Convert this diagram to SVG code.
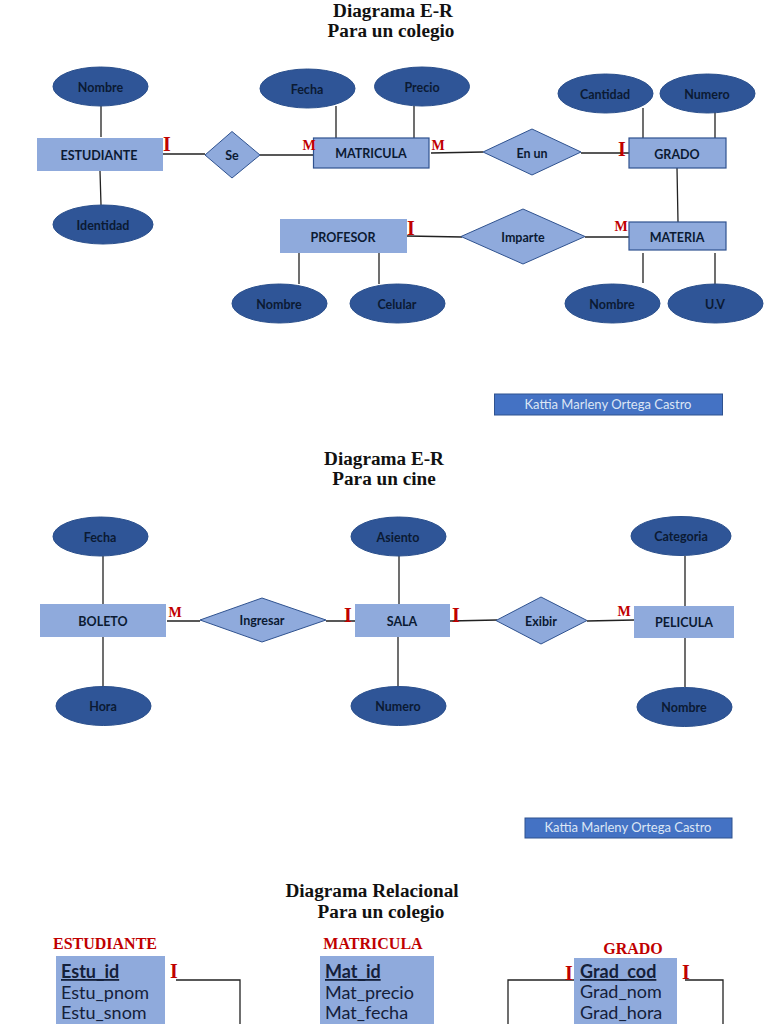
<svg xmlns="http://www.w3.org/2000/svg" width="768" height="1024" viewBox="0 0 768 1024">
<style>
text{font-family:"Lato","Open Sans","Liberation Sans",sans-serif;text-anchor:middle}
.t{font-family:"Liberation Serif",serif;font-weight:700;font-size:19.200px;fill:#111}
.n{font-weight:700;font-size:12.500px;fill:#0b1a33}
.e{fill:#2f5597;stroke:#2a4f8c;stroke-width:1}
.r{fill:#8faadc}
.b{fill:#8faadc;stroke:#2f528f;stroke-width:1.2}
.d{fill:#8faadc;stroke:#2f528f;stroke-width:1}
.c{fill:none;stroke:#222;stroke-width:1.3}
.m{font-family:"Liberation Serif",serif;font-weight:700;fill:#c00000;font-size:14px}
.i{font-family:"Liberation Serif",serif;font-weight:700;fill:#c00000;font-size:20px}
.h{font-family:"Liberation Serif",serif;font-weight:700;fill:#c00000;font-size:16px}
.a{fill:#4472c4;stroke:#2f528f;stroke-width:1}
.w{font-size:13px;fill:#dce6f5}
.f{font-size:18px;fill:#14203a;text-anchor:start}
.k{font-weight:700;text-decoration:underline}
</style>
<g id="titles">
<text class="t" x="393" y="17">Diagrama E-R</text>
<text class="t" x="391" y="37">Para un colegio</text>
<text class="t" x="384" y="465">Diagrama E-R</text>
<text class="t" x="384" y="485">Para un cine</text>
<text class="t" x="372" y="897">Diagrama Relacional</text>
<text class="t" x="381" y="918">Para un colegio</text>
</g>
<g id="connectors">
<path class="c" d="M101 106V137M100 171L101 205M163 154H205M260 155H314M336 106V138M414 106V138M431 153L483 152M581 153H629M643 108V138M715 112V138M677 168L678 222M407 236L462 237M585 237H629M299 253V284M379 253V284M643 253V283M715 253V284"/>
<path class="c" d="M103 556V604M103 637V687M399 556V604M398 637V687M685 556V606M685 638V687M167 621H200M326 621H355M450 621L497 620M587 621L634 620"/>
<path class="c" d="M176 980H240V1024M574 980H508V1024M685 980H723V1024"/>
</g>
<g id="n-nombre1"><ellipse class="e" cx="100.500" cy="86.500" rx="47.500" ry="19.500"/><text class="n" x="100.500" y="92">Nombre</text></g>
<g id="n-identidad"><ellipse class="e" cx="103" cy="224.500" rx="50" ry="19.500"/><text class="n" x="103" y="230">Identidad</text></g>
<g id="n-estudiante"><rect class="r" x="37" y="138" width="126" height="33"/><text class="n" x="99" y="160">ESTUDIANTE</text></g>
<g id="n-se"><path class="d" d="M232 131.500L260 155L232 178L205 155Z"/><text class="n" x="232" y="160">Se</text></g>
<g id="n-fecha"><ellipse class="e" cx="307.500" cy="88.500" rx="47.500" ry="19.500"/><text class="n" x="307" y="94">Fecha</text></g>
<g id="n-precio"><ellipse class="e" cx="422" cy="86.500" rx="47.500" ry="19.500"/><text class="n" x="422" y="92">Precio</text></g>
<g id="n-matricula"><rect class="b" x="313.500" y="138" width="115.500" height="30"/><text class="n" x="371" y="158">MATRICULA</text></g>
<g id="n-enun"><path class="d" d="M532 129L581 152L532 175L483 152Z"/><text class="n" x="532" y="158">En un</text></g>
<g id="n-cantidad"><ellipse class="e" cx="605.500" cy="93.500" rx="47.500" ry="19.500"/><text class="n" x="605" y="99">Cantidad</text></g>
<g id="n-numero1"><ellipse class="e" cx="707.500" cy="93.500" rx="47.500" ry="19.500"/><text class="n" x="707" y="99">Numero</text></g>
<g id="n-grado"><rect class="b" x="629" y="138" width="97" height="30"/><text class="n" x="677" y="159">GRADO</text></g>
<g id="n-profesor"><rect class="r" x="280" y="219" width="127" height="34"/><text class="n" x="343" y="242">PROFESOR</text></g>
<g id="n-imparte"><path class="d" d="M523 209L585 236.500L523 264L461 236.500Z"/><text class="n" x="523" y="242">Imparte</text></g>
<g id="n-materia"><rect class="b" x="629" y="222" width="97" height="28"/><text class="n" x="677" y="242">MATERIA</text></g>
<g id="n-nombre2"><ellipse class="e" cx="279.500" cy="303.500" rx="47.500" ry="19.500"/><text class="n" x="279" y="309">Nombre</text></g>
<g id="n-celular"><ellipse class="e" cx="397.500" cy="303.500" rx="47.500" ry="19.500"/><text class="n" x="397" y="309">Celular</text></g>
<g id="n-nombre3"><ellipse class="e" cx="612.500" cy="303.500" rx="47.500" ry="19.500"/><text class="n" x="612" y="309">Nombre</text></g>
<g id="n-uv"><ellipse class="e" cx="715.500" cy="303.500" rx="47.500" ry="19.500"/><text class="n" x="715" y="309">U.V</text></g>
<g id="n-autor1"><rect class="a" x="494.500" y="394" width="228" height="21"/><text class="w" x="608" y="409">Kattia Marleny Ortega Castro</text></g>
<g id="n-fecha2"><ellipse class="e" cx="100.500" cy="536.500" rx="47.500" ry="19.500"/><text class="n" x="100" y="542">Fecha</text></g>
<g id="n-hora"><ellipse class="e" cx="103.500" cy="706" rx="47.500" ry="19.500"/><text class="n" x="103" y="711">Hora</text></g>
<g id="n-boleto"><rect class="r" x="40" y="604" width="126" height="33"/><text class="n" x="103" y="626">BOLETO</text></g>
<g id="n-ingresar"><path class="d" d="M262 598L326 620L262 642L200 620Z"/><text class="n" x="262" y="625">Ingresar</text></g>
<g id="n-asiento"><ellipse class="e" cx="398.500" cy="536.500" rx="47.500" ry="19.500"/><text class="n" x="398" y="542">Asiento</text></g>
<g id="n-numero2"><ellipse class="e" cx="398.500" cy="706" rx="47.500" ry="19.500"/><text class="n" x="398" y="711">Numero</text></g>
<g id="n-sala"><rect class="r" x="355" y="604" width="95" height="33"/><text class="n" x="402" y="626">SALA</text></g>
<g id="n-exibir"><path class="d" d="M541 597L587 620.500L541 644L496 620.500Z"/><text class="n" x="541" y="626">Exibir</text></g>
<g id="n-categoria"><ellipse class="e" cx="681" cy="536" rx="50" ry="19.500"/><text class="n" x="681" y="541">Categoria</text></g>
<g id="n-nombre4"><ellipse class="e" cx="684.500" cy="707" rx="47.500" ry="19.500"/><text class="n" x="684" y="712">Nombre</text></g>
<g id="n-pelicula"><rect class="r" x="634" y="606" width="100" height="32"/><text class="n" x="684" y="627">PELICULA</text></g>
<g id="n-autor2"><rect class="a" x="525" y="818" width="207" height="20"/><text class="w" x="628" y="832">Kattia Marleny Ortega Castro</text></g>
<g id="cardinalities">
<text class="i" x="167" y="151">I</text><text class="m" x="309" y="150">M</text><text class="m" x="438" y="150">M</text><text class="i" x="622" y="156">I</text>
<text class="i" x="411" y="235">I</text><text class="m" x="621" y="231">M</text>
<text class="m" x="175" y="617">M</text><text class="i" x="348" y="622">I</text><text class="i" x="456" y="622">I</text><text class="m" x="624" y="616">M</text>
<text class="h" x="105" y="949">ESTUDIANTE</text><text class="h" x="373" y="949">MATRICULA</text><text class="h" x="633" y="954">GRADO</text>
<text class="i" x="174" y="978">I</text><text class="i" x="569" y="980">I</text><text class="i" x="686" y="979">I</text>
</g>
<g id="n-t-estudiante"><rect class="r" x="56" y="956" width="109" height="68"/><text class="f k" x="61" y="978">Estu_id</text><text class="f" x="61" y="999">Estu_pnom</text><text class="f" x="61" y="1019">Estu_snom</text></g>
<g id="n-t-matricula"><rect class="r" x="320" y="956" width="114" height="68"/><text class="f k" x="325" y="978">Mat_id</text><text class="f" x="325" y="999">Mat_precio</text><text class="f" x="325" y="1019">Mat_fecha</text></g>
<g id="n-t-grado"><rect class="r" x="574" y="958" width="103" height="66"/><text class="f k" x="580" y="978">Grad_cod</text><text class="f" x="580" y="998">Grad_nom</text><text class="f" x="580" y="1019">Grad_hora</text></g>
</svg>
